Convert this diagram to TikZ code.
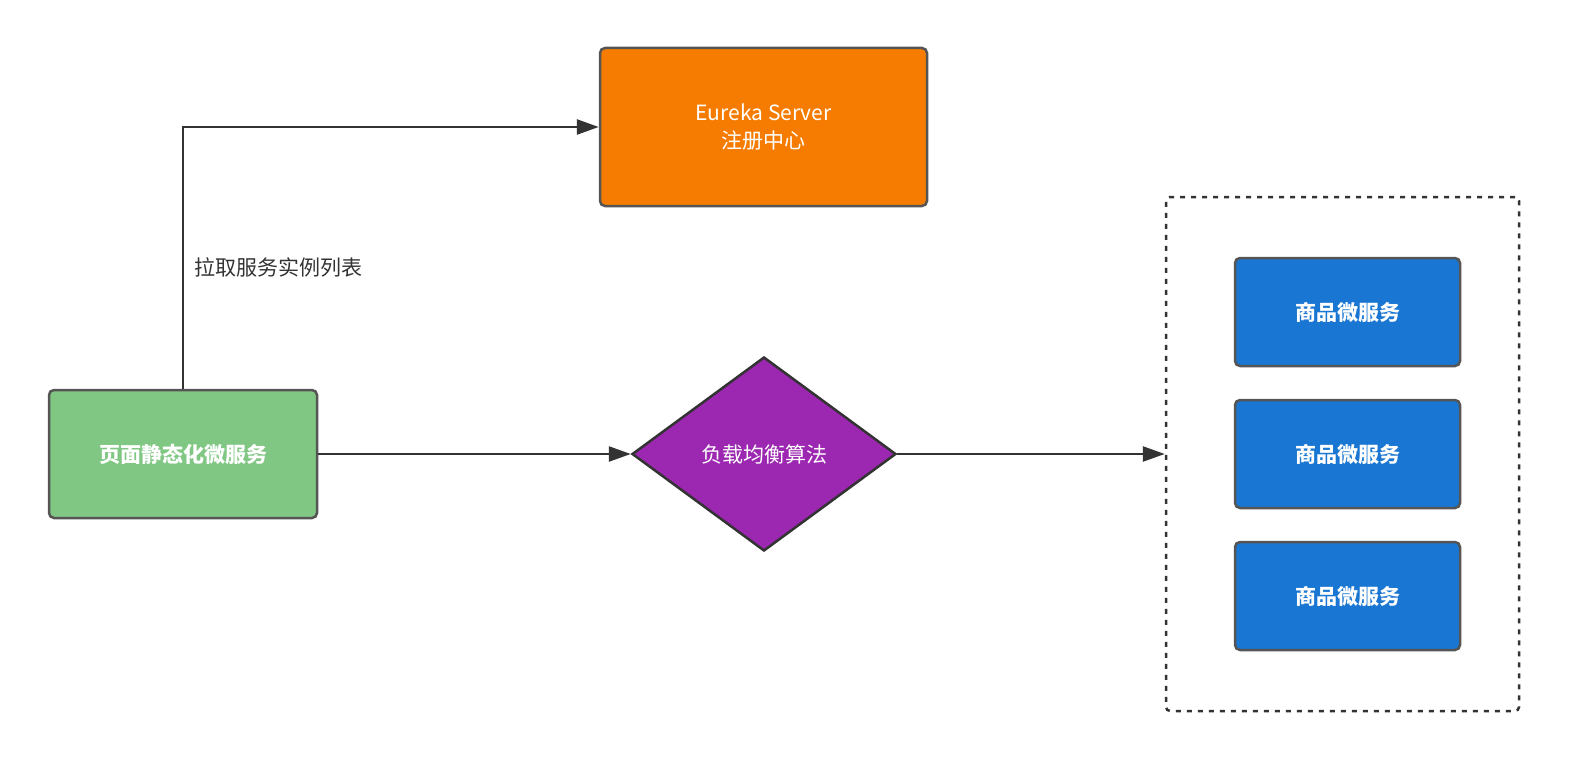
\documentclass[tikz,border=0pt]{standalone}
\usepackage{fontspec}
\setmainfont{Noto Sans CJK SC}
\usetikzlibrary{arrows.meta,shapes.geometric}
\definecolor{edge}{HTML}{555555}
\definecolor{line}{HTML}{333333}
\definecolor{orangef}{HTML}{F57C00}
\definecolor{greenf}{HTML}{81C784}
\definecolor{purplef}{HTML}{9C27B0}
\definecolor{bluef}{HTML}{1976D2}
\begin{document}
\begin{tikzpicture}[x=1pt,y=-1pt,
  box/.style={draw=edge,line width=2.5pt,rounded corners=5pt,text=white,font=\bfseries\fontsize{21}{26}\selectfont,align=center},
  conn/.style={draw=line,line width=2.5pt,-{Triangle[length=22pt,width=15pt]}}]
\useasboundingbox (0,0) rectangle (1586,770);
\node[box,fill=orangef,minimum width=327pt,minimum height=158pt,font=\fontsize{21}{28}\selectfont] (eureka) at (763.5,127) {Eureka Server\\注册中心};
\node[box,fill=greenf,minimum width=268pt,minimum height=128pt] (web) at (183,454) {页面静态化微服务};
\node[diamond,draw=line,line width=2.5pt,fill=purplef,text=white,font=\fontsize{21}{26}\selectfont,minimum width=264pt,minimum height=194pt,inner sep=0pt] (lb) at (764,454) {负载均衡算法};
\node[draw=line,line width=2.5pt,dash pattern=on 5pt off 6pt,rounded corners=4pt,minimum width=353pt,minimum height=514pt] (grp) at (1342.5,454) {};
\node[box,fill=bluef,minimum width=225pt,minimum height=108pt] (g1) at (1347.5,312) {商品微服务};
\node[box,fill=bluef,minimum width=225pt,minimum height=108pt] (g2) at (1347.5,454) {商品微服务};
\node[box,fill=bluef,minimum width=225pt,minimum height=108pt] (g3) at (1347.5,596) {商品微服务};
\coordinate (bend) at (183,127);
\draw[conn] (web.north) -- (bend) -- (eureka.west);
\node[anchor=west,text=line,font=\fontsize{21}{26}\selectfont] (lbl) at (191,267) {拉取服务实例列表};
\draw[conn] (web.east) -- (lb.west);
\draw[conn] (lb.east) -- (grp.west);
\end{tikzpicture}
\end{document}
